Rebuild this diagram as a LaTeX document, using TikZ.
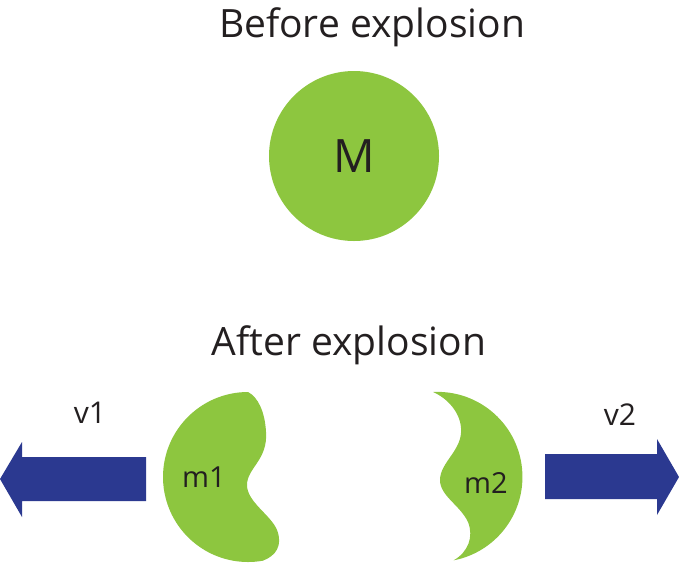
\documentclass[tikz,border=0pt]{standalone}
\usepackage{fontspec}
\setmainfont{Open Sans}
\usepackage{tikz}

\definecolor{leaf}{HTML}{8DC63F}
\definecolor{navy}{HTML}{2B3990}
\definecolor{ink}{HTML}{231F20}

\begin{document}
\begin{tikzpicture}[x=1pt,y=-1pt,
      title/.style={anchor=base,text=ink,font=\fontsize{39}{47}\selectfont},
      mass/.style={anchor=base,text=ink,font=\fontsize{29}{34}\selectfont},
      speed/.style={anchor=base,text=ink,font=\fontsize{30}{36}\selectfont},
      piece/.style={fill=leaf},
      push/.style={fill=navy}]
      \useasboundingbox (0,0) rectangle (679,563);
      % before
      \node[title] (before) at (372,37) {Before explosion};
      \node[circle,fill=leaf,inner sep=0pt,minimum size=170pt,text=ink,
        font=\fontsize{46}{54}\selectfont] (M) at (354,156) {M};
      % after
      \node[title] (after) at (349,355) {After explosion};
      \fill[piece] (248,392) arc[start angle=90,end angle=280,radius=85pt]
        .. controls (276,556) and (283,545) .. (277,530)
        .. controls (271,515) and (247,502) .. (247,485)
        .. controls (247,468) and (268,460) .. (266,432)
        .. controls (265,412) and (258,397) .. (248,392) -- cycle;
      \fill[piece] (433,392) arc[start angle=93,end angle=-79,radius=85pt]
        .. controls (468,552) and (474,537) .. (468,522)
        .. controls (460,505) and (440,496) .. (440,480)
        .. controls (440,462) and (463,450) .. (461,428)
        .. controls (460,412) and (447,398) .. (433,392) -- cycle;
      \node[mass] (m1) at (204,487) {m1};
      \node[mass] (m2) at (486,493) {m2};
      \fill[push] (146,457) -- (22,457) -- (22,442) -- (0,479)
        -- (22,517) -- (22,501) -- (146,501) -- cycle;
      \fill[push] (545,454) -- (657,454) -- (657,439) -- (679,477)
        -- (657,515) -- (657,499) -- (545,499) -- cycle;
      \node[speed] (v1) at (90,423) {v1};
      \node[speed] (v2) at (620,425) {v2};
    \end{tikzpicture}
\end{document}
